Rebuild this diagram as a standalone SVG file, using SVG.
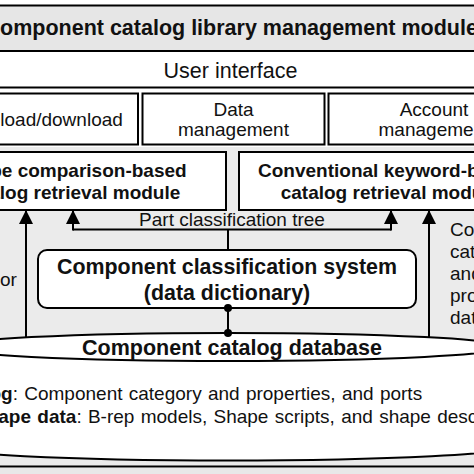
<svg xmlns="http://www.w3.org/2000/svg" width="474" height="474" viewBox="0 0 474 474">
<defs>
<style>
.ln{stroke:#000;stroke-width:2;fill:none}
.box{fill:#fff;stroke:#000;stroke-width:2}
.t{font-family:"Liberation Sans",Arial,sans-serif;fill:#111}
.b{font-weight:bold}
</style>
<marker id="ah" viewBox="0 0 14 14" refX="13" refY="7" markerWidth="14" markerHeight="14" orient="auto" markerUnits="userSpaceOnUse"><path d="M0,0 L14,7 L0,14 z" fill="#000"/></marker>
</defs>
<rect x="0" y="0" width="474" height="474" fill="#fff"/>
<g id="module-title">
<rect x="-10" y="5.5" width="494" height="45.5" fill="#e6e6e6" stroke="#000" stroke-width="2"/>
<text class="t b" x="-15.5" y="35" font-size="21.5">Component catalog library management module</text>
</g>
<g id="user-interface">
<text class="t" x="230.5" y="78" font-size="21.5" text-anchor="middle">User interface</text>
<line class="ln" x1="-10" y1="87.5" x2="484" y2="87.5" stroke-width="2.5"/>
</g>
<rect x="-10" y="147" width="494" height="319" fill="#ebebeb"/>
<g id="upload-download">
<rect class="box" x="-40" y="93.5" width="178" height="51"/>
<text class="t" x="-24" y="126" font-size="19">Upload/download</text>
</g>
<g id="data-management">
<rect class="box" x="142.5" y="93.5" width="182" height="51"/>
<text class="t" x="233.5" y="116" font-size="19" text-anchor="middle">Data</text>
<text class="t" x="233.5" y="136" font-size="19" text-anchor="middle">management</text>
</g>
<g id="account-management">
<rect class="box" x="328.5" y="93.5" width="200" height="51"/>
<text class="t" x="434" y="116" font-size="19" text-anchor="middle">Account</text>
<text class="t" x="434" y="136" font-size="19" text-anchor="middle">management</text>
</g>
<g id="shape-retrieval">
<rect class="box" x="-90" y="152" width="316" height="58"/>
<text class="t b" x="71" y="177" font-size="19" text-anchor="middle">Shape comparison-based</text>
<text class="t b" x="71" y="199" font-size="19" text-anchor="middle">catalog retrieval module</text>
</g>
<g id="keyword-retrieval">
<rect class="box" x="239" y="152" width="310" height="58"/>
<text class="t b" x="390" y="177" font-size="19" text-anchor="middle">Conventional keyword-based</text>
<text class="t b" x="390" y="199" font-size="19" text-anchor="middle">catalog retrieval module</text>
</g>
<g id="classification-system">
<rect class="box" x="38" y="250" width="378" height="58" rx="9"/>
<text class="t b" x="227" y="274" font-size="21.4" text-anchor="middle">Component classification system</text>
<text class="t b" x="227" y="300" font-size="21.4" text-anchor="middle">(data dictionary)</text>
</g>
<g id="catalog-database">
<path d="M-60,347 L-60,446 A278,14 0 0 0 516,446 L516,347 Z" fill="#fff"/>
<path class="ln" d="M-60,446 A278,14 0 0 0 516,446" transform="translate(0,0)"/>
<ellipse cx="228" cy="347" rx="278" ry="14" class="box"/>
<text class="t b" x="232" y="355" font-size="21.5" text-anchor="middle">Component catalog database</text>
<text class="t" x="-57" y="400" font-size="19" word-spacing="1"><tspan class="b">Catalog</tspan>: Component category and properties, and ports</text>
<text class="t" x="-26" y="423" font-size="19" word-spacing="1"><tspan class="b">Shape data</tspan>: B-rep models, Shape scripts, and shape descriptors</text>
</g>
<line class="ln" x1="-10" y1="466.5" x2="484" y2="466.5" stroke-width="2.5"/>
<rect x="-10" y="468" width="494" height="10" fill="#e8e8e8"/>
<g id="connectors">
<text class="t" x="232" y="226" font-size="19" text-anchor="middle">Part classification tree</text>
<path class="ln" d="M228,250 V229.5 M73,229.5 H391"/>
<path class="ln" d="M73,230.5 V211" marker-end="url(#ah)"/>
<path class="ln" d="M391,230.5 V211" marker-end="url(#ah)"/>
<path class="ln" d="M26,338 V211" marker-end="url(#ah)"/>
<path class="ln" d="M429,338 V211" marker-end="url(#ah)"/>
<line class="ln" x1="228" y1="308" x2="228" y2="333"/>
<circle cx="228" cy="308" r="4" fill="#000"/>
<circle cx="228" cy="333" r="4" fill="#000"/>
<text class="t" x="0" y="286" font-size="19">or</text>
<text class="t" x="450" y="236" font-size="19">Component</text>
<text class="t" x="450" y="258" font-size="19">catalog</text>
<text class="t" x="450" y="280" font-size="19">and</text>
<text class="t" x="450" y="302" font-size="19">property</text>
<text class="t" x="450" y="324" font-size="19">data</text>
</g>
</svg>
